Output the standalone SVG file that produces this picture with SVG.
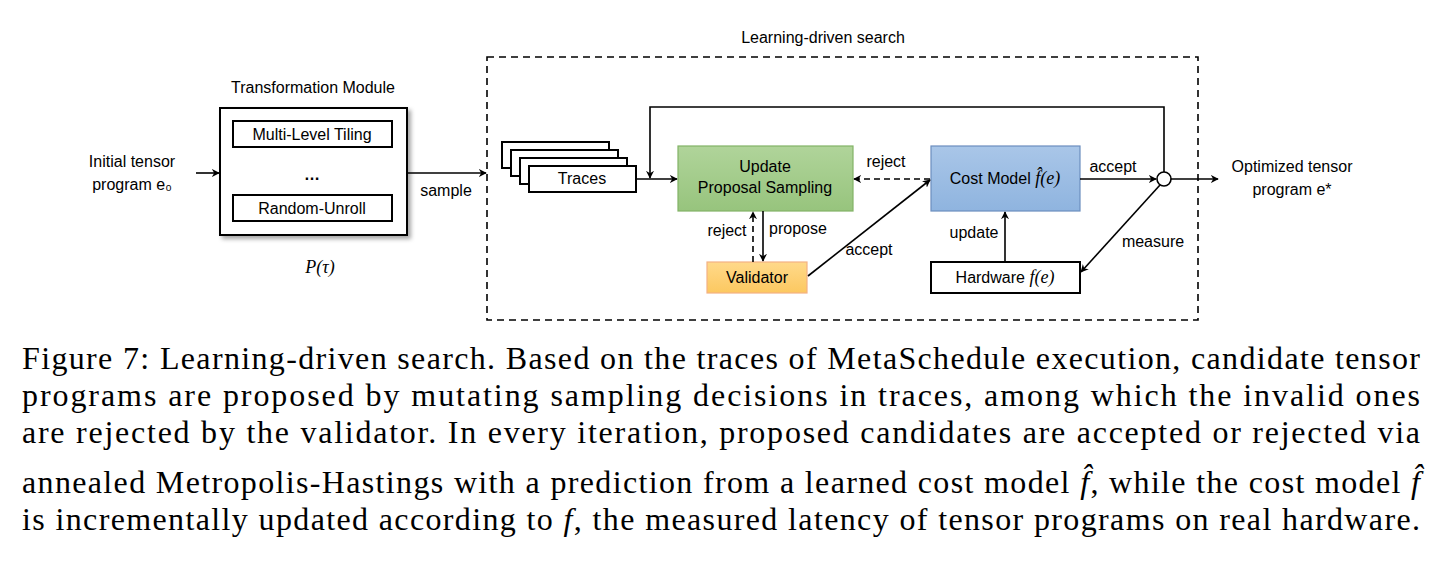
<svg xmlns="http://www.w3.org/2000/svg" width="1440" height="563" viewBox="0 0 1440 563">
<style>
.t{font-family:"Liberation Sans",Arial,sans-serif;font-size:16px;fill:#000}
.m{font-family:"Liberation Serif","Times New Roman",serif;font-style:italic;font-size:18px}
.c{font-family:"Liberation Serif","Times New Roman",serif;font-size:32px;fill:#000}
.box{fill:#fff;stroke:#000;stroke-width:2}
.ln{fill:none;stroke:#000;stroke-width:1.6}
.dash{stroke-dasharray:6 4}
</style>
<defs>
<marker id="a" viewBox="0 0 10 10" refX="9" refY="5" markerWidth="8" markerHeight="8" orient="auto-start-reverse" markerUnits="userSpaceOnUse"><path d="M0,0 L10,5 L0,10 L3,5 z" fill="#000"/></marker>
<filter id="sh" x="-10%" y="-10%" width="130%" height="130%"><feDropShadow dx="3" dy="3" stdDeviation="2" flood-opacity="0.35"/></filter>
<linearGradient id="g" x1="0" y1="0" x2="0" y2="1"><stop offset="0" stop-color="#b0d49a"/><stop offset="1" stop-color="#97c47d"/></linearGradient>
<linearGradient id="b" x1="0" y1="0" x2="0" y2="1"><stop offset="0" stop-color="#a9c6e8"/><stop offset="1" stop-color="#8fb4df"/></linearGradient>
<linearGradient id="o" x1="0" y1="0" x2="0" y2="1"><stop offset="0" stop-color="#ffd98a"/><stop offset="1" stop-color="#fcc860"/></linearGradient>
</defs>
<g id="input"><text class="t" x="132" y="167" text-anchor="middle" font-size="15">Initial tensor</text><text class="t" x="132" y="190" text-anchor="middle" font-size="15">program e₀</text></g>
<g id="transformation">
<text class="t" x="313" y="93" text-anchor="middle" font-size="18">Transformation Module</text>
<rect class="box" x="220" y="108" width="187" height="127" filter="url(#sh)"/>
<rect class="box" x="233" y="121" width="159" height="26" stroke-width="1.5"/>
<text class="t" x="312" y="140" text-anchor="middle" font-size="15">Multi-Level Tiling</text>
<text class="t" x="312" y="180" text-anchor="middle" font-size="20" font-weight="bold">…</text>
<rect class="box" x="233" y="195" width="159" height="26" stroke-width="1.5"/>
<text class="t" x="312" y="214" text-anchor="middle" font-size="15">Random-Unroll</text>
<text class="m" x="320" y="273" text-anchor="middle">P(τ)</text>
</g>
<g id="search">
<rect x="487" y="57" width="711" height="263" fill="none" stroke="#000" stroke-width="1.6" stroke-dasharray="7 5"/>
<text class="t" x="823" y="43" text-anchor="middle" font-size="16">Learning-driven search</text>
</g>
<g id="traces">
<rect class="box" x="502" y="142" width="107" height="26" stroke-width="1.8"/>
<rect class="box" x="511" y="150" width="107" height="26" stroke-width="1.8"/>
<rect class="box" x="520" y="158" width="107" height="26" stroke-width="1.8"/>
<rect class="box" x="529" y="166" width="107" height="26" stroke-width="1.8"/>
<text class="t" x="582" y="184" text-anchor="middle" font-size="15">Traces</text>
</g>
<g id="update">
<rect x="678" y="146" width="175" height="65" fill="url(#g)" stroke="#82b366" stroke-width="1.2"/>
<text class="t" x="765" y="172" text-anchor="middle">Update</text>
<text class="t" x="765" y="193" text-anchor="middle">Proposal Sampling</text>
</g>
<g id="costmodel">
<rect x="931" y="146" width="149" height="65" fill="url(#b)" stroke="#6c8ebf" stroke-width="1.2"/>
<text class="t" x="1005" y="184" text-anchor="middle">Cost Model <tspan class="m">f̂</tspan><tspan class="m" font-style="normal">(</tspan><tspan class="m">e</tspan><tspan class="m" font-style="normal">)</tspan></text>
</g>
<g id="validator">
<rect x="707" y="262" width="100" height="31" fill="url(#o)" stroke="#f4b183" stroke-width="1.2"/>
<text class="t" x="757" y="283" text-anchor="middle">Validator</text>
</g>
<g id="hardware">
<rect class="box" x="931" y="262" width="149" height="31" stroke-width="1.8"/>
<text class="t" x="1005" y="283" text-anchor="middle">Hardware <tspan class="m">f</tspan><tspan class="m" font-style="normal">(</tspan><tspan class="m">e</tspan><tspan class="m" font-style="normal">)</tspan></text>
</g>
<g id="junction"><circle cx="1164" cy="179" r="7" fill="#fff" stroke="#000" stroke-width="1.6"/></g>
<g id="output"><text class="t" x="1292" y="172" text-anchor="middle" font-size="15">Optimized tensor</text><text class="t" x="1292" y="195" text-anchor="middle" font-size="15">program e*</text></g>
<g id="connectors">
<line class="ln" x1="196" y1="173" x2="219" y2="173" marker-end="url(#a)"/>
<line class="ln" x1="407" y1="173" x2="486" y2="173" marker-end="url(#a)"/>
<text class="t" x="446" y="196" text-anchor="middle" font-size="18">sample</text>
<line class="ln" x1="636" y1="179" x2="677" y2="179" marker-end="url(#a)"/>
<path class="ln" d="M1164,172 V107 H650 V178" marker-end="url(#a)"/>
<line class="ln dash" x1="930" y1="179" x2="854" y2="179" marker-end="url(#a)"/>
<text class="t" x="886" y="167" text-anchor="middle" font-size="14">reject</text>
<line class="ln" x1="1080" y1="179" x2="1156" y2="179" marker-end="url(#a)"/>
<text class="t" x="1113" y="172" text-anchor="middle" font-size="14">accept</text>
<line class="ln" x1="1171" y1="179" x2="1218" y2="179" marker-end="url(#a)"/>
<line class="ln" x1="763" y1="211" x2="763" y2="261" marker-end="url(#a)"/>
<text class="t" x="798" y="234" text-anchor="middle" font-size="14">propose</text>
<line class="ln dash" x1="753" y1="262" x2="753" y2="212" marker-end="url(#a)"/>
<text class="t" x="727" y="236" text-anchor="middle" font-size="14">reject</text>
<line class="ln" x1="808" y1="276" x2="930" y2="180" marker-end="url(#a)"/>
<text class="t" x="869" y="255" text-anchor="middle" font-size="14">accept</text>
<line class="ln" x1="1005" y1="262" x2="1005" y2="212" marker-end="url(#a)"/>
<text class="t" x="974" y="238" text-anchor="middle" font-size="14">update</text>
<line class="ln" x1="1160" y1="185" x2="1081" y2="272" marker-end="url(#a)"/>
<text class="t" x="1153" y="247" text-anchor="middle" font-size="14">measure</text>
</g>
<g id="caption">
<text class="c" x="22" y="369" textLength="1398" lengthAdjust="spacing">Figure 7: Learning-driven search. Based on the traces of MetaSchedule execution, candidate tensor</text>
<text class="c" x="22" y="406" textLength="1398" lengthAdjust="spacing">programs are proposed by mutating sampling decisions in traces, among which the invalid ones</text>
<text class="c" x="22" y="443" textLength="1398" lengthAdjust="spacing">are rejected by the validator. In every iteration, proposed candidates are accepted or rejected via</text>
<text class="c" x="22" y="493" textLength="1398" lengthAdjust="spacing">annealed Metropolis-Hastings with a prediction from a learned cost model <tspan font-style="italic">f̂</tspan>, while the cost model <tspan font-style="italic">f̂</tspan></text>
<text class="c" x="22" y="530" textLength="1398" lengthAdjust="spacing">is incrementally updated according to <tspan font-style="italic">f</tspan>, the measured latency of tensor programs on real hardware.</text>
</g>
</svg>
